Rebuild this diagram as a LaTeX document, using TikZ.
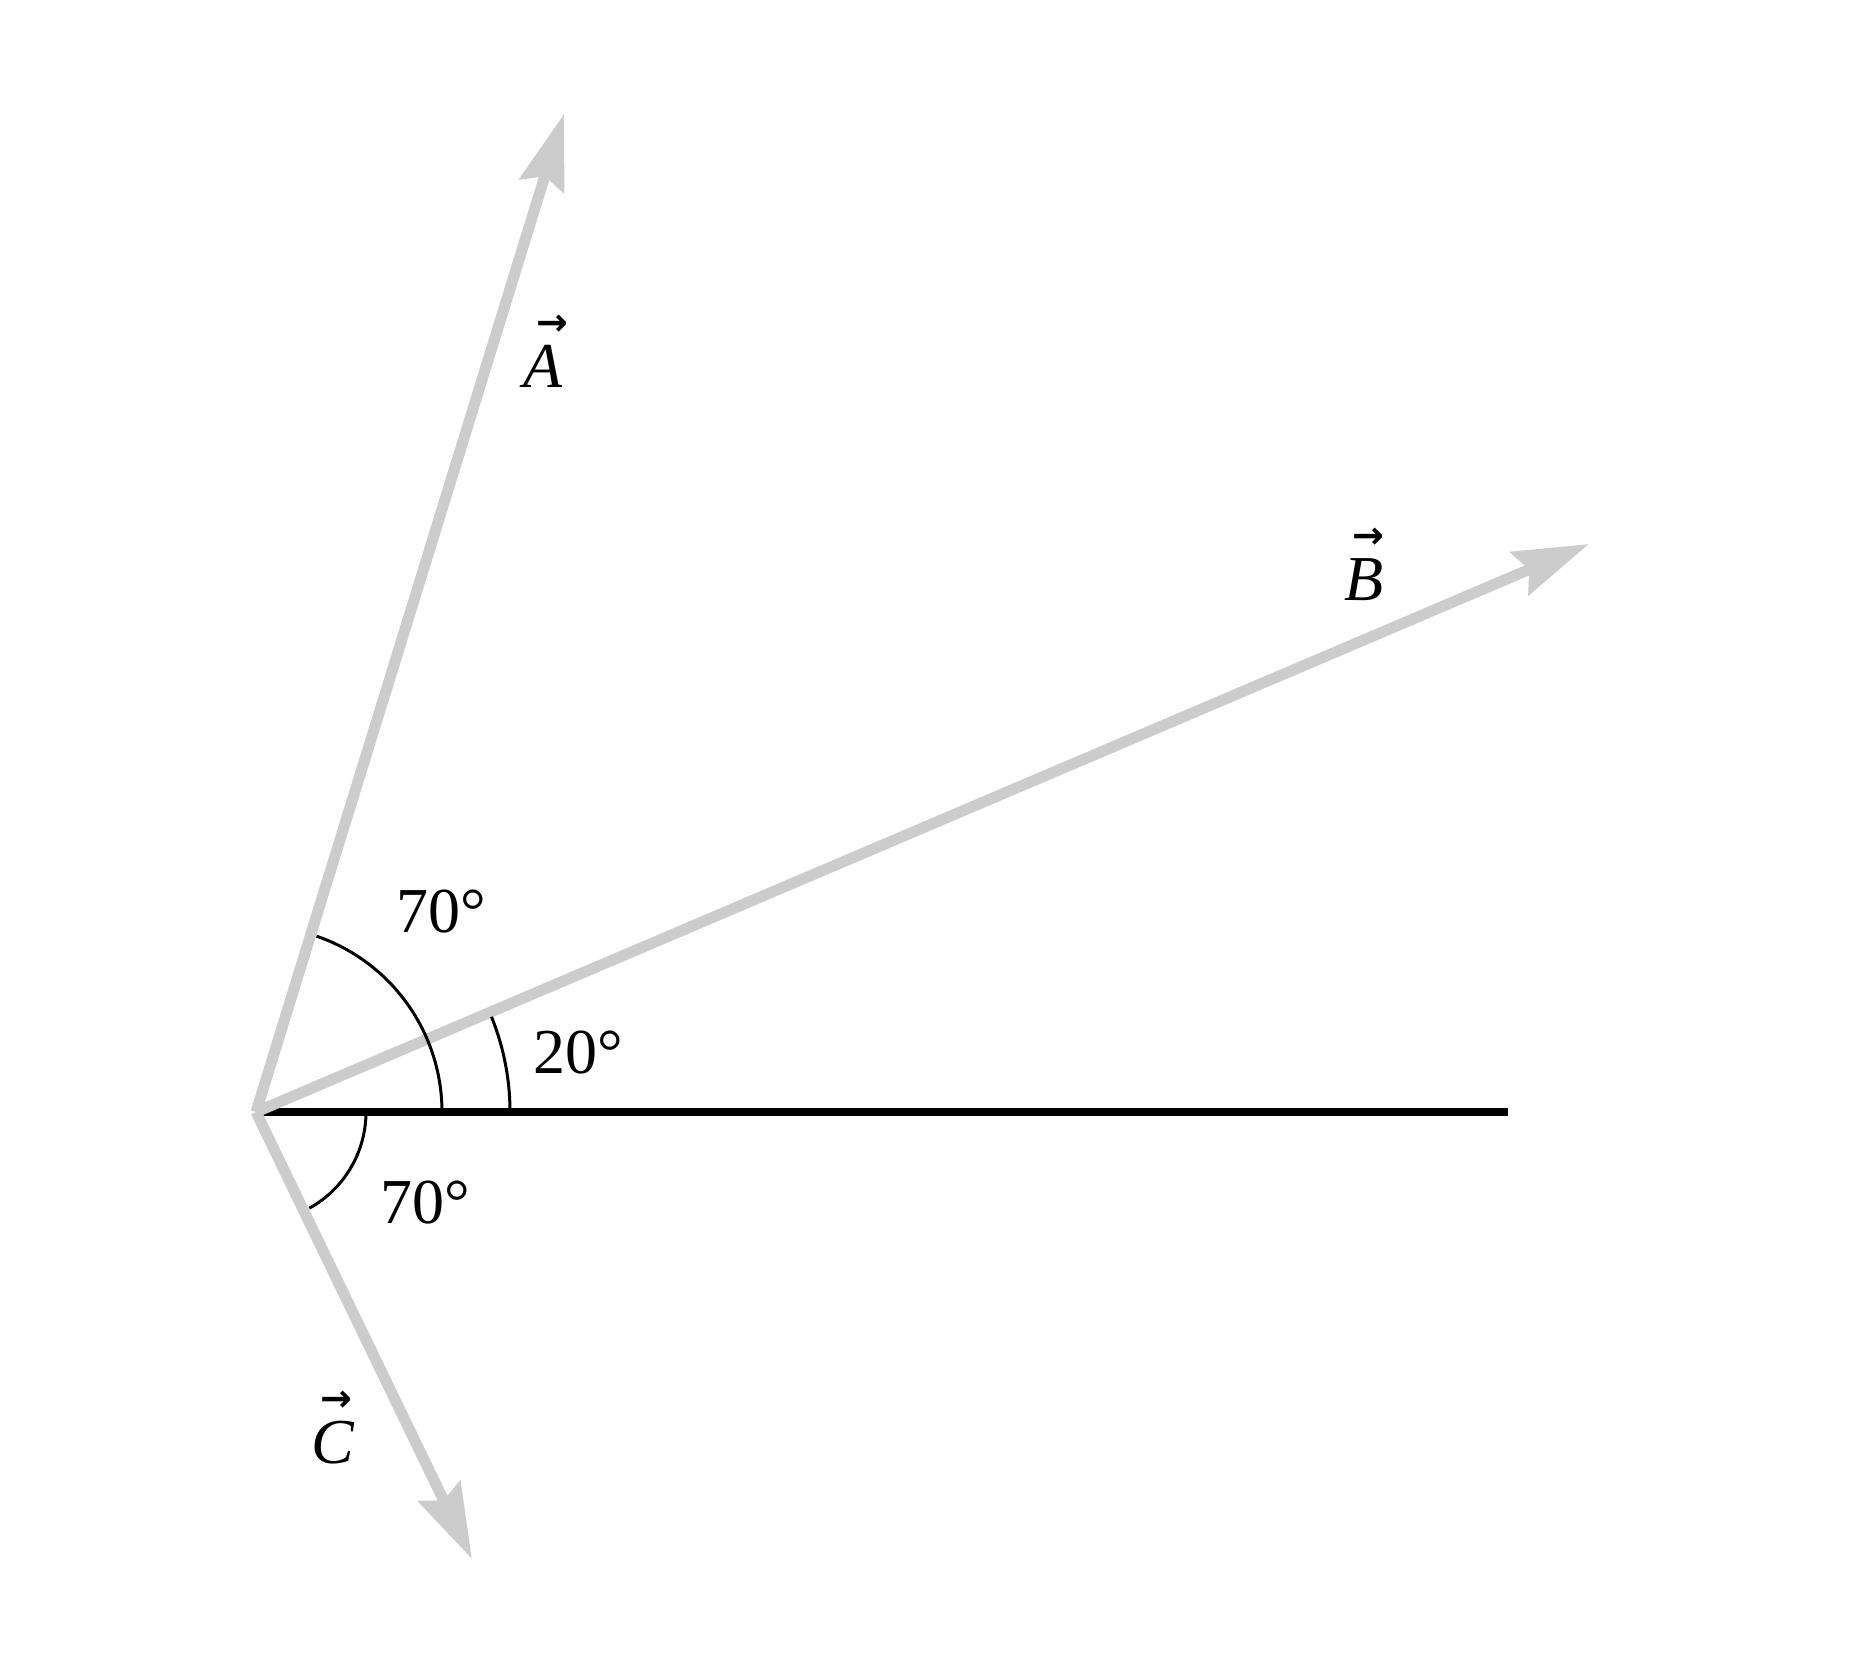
\documentclass[tikz,border=0pt]{standalone}
\usepackage{fontspec}
\setmainfont{Liberation Serif}
\newfontfamily\arrowfont{DejaVu Sans}
\usetikzlibrary{arrows.meta}
\definecolor{vecgray}{HTML}{CCCCCC}
\newcommand\vecsym[2]{\makebox[0pt][l]{\hspace*{#1}\raisebox{52pt}{\arrowfont\bfseries\fontsize{38}{40}\selectfont →}}#2}
\tikzset{
 vecline/.style={draw=vecgray, line width=11pt, -{Stealth[length=75pt,width=46pt,inset=10pt]}},
 hline/.style={draw=black, line width=7.5pt},
 anglearc/.style={draw=black, line width=3pt},
 lbl/.style={font=\fontsize{64}{77}\selectfont, inner sep=0pt, anchor=base},
 vlbl/.style={font=\fontsize{64}{77}\selectfont\itshape, inner sep=0pt, anchor=base},
}
\begin{document}
\begin{tikzpicture}[x=1pt,y=-1pt]
\useasboundingbox (0,0) rectangle (1855,1667);
\coordinate (O) at (256,1112);
\coordinate (Atip) at (564,114);
\coordinate (Btip) at (1589,544);
\coordinate (Ctip) at (472,1559);
\coordinate (Hend) at (1508,1112);
\draw[hline] (O) -- (Hend);
\draw[vecline] (O) -- (Atip);
\draw[vecline] (O) -- (Btip);
\draw[vecline] (O) -- (Ctip);
\draw[anglearc] (O) ++(186,0) arc[start angle=0,end angle=71,radius=186pt];
\draw[anglearc] (O) ++(254,0) arc[start angle=0,end angle=22,radius=254pt];
\draw[anglearc] (O) ++(110,0) arc[start angle=0,end angle=-61,radius=110pt];
\node[vlbl] (la) at (543,387) {\vecsym{12.6pt}{A}};
\node[vlbl] (lb) at (1364,600) {\vecsym{7.6pt}{B}};
\node[vlbl] (lc) at (333,1463) {\vecsym{8.4pt}{C}};
\node[lbl] (t1) at (441,932) {70°};
\node[lbl] (t2) at (578,1073) {20°};
\node[lbl] (t3) at (425,1223) {70°};
\end{tikzpicture}
\end{document}
